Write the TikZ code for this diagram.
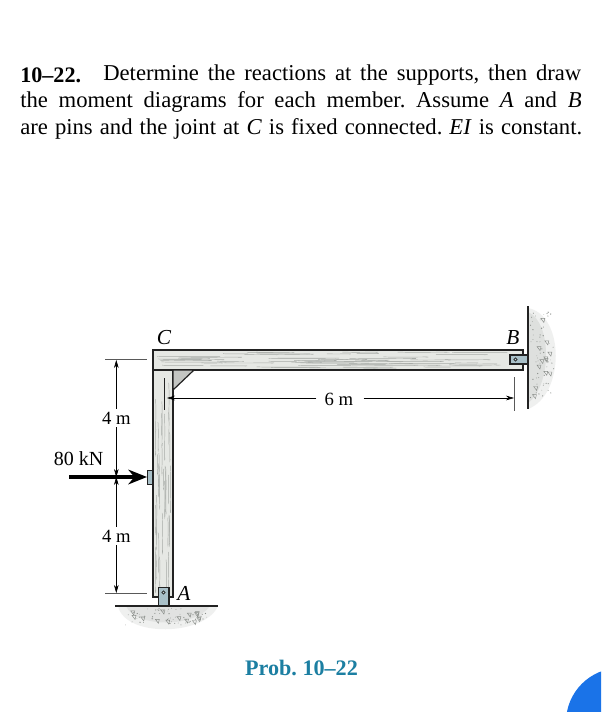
\documentclass[tikz,border=0pt]{standalone}
\usepackage{fontspec}
\setmainfont{Liberation Serif}
\usetikzlibrary{arrows.meta}
\definecolor{wood}{HTML}{E6E8E4}
\definecolor{grain}{HTML}{A8ACA8}
\definecolor{steel}{HTML}{A9C0C8}
\definecolor{edge}{HTML}{222222}
\definecolor{probblue}{HTML}{1C7FA2}
\definecolor{badge}{HTML}{1A73E8}
\definecolor{concrete}{HTML}{D4D6D4}
\definecolor{stone}{HTML}{8A8E8A}
\tikzset{
  body/.style={font=\fontsize{17}{20}\selectfont,inner sep=0pt,anchor=west},
  dimtext/.style={font=\fontsize{14}{16}\selectfont,inner sep=0pt},
  letter/.style={font=\fontsize{16}{18}\selectfont\itshape,inner sep=0pt},
  member/.style={fill=wood,draw=edge,line width=1pt},
  plate/.style={fill=steel,draw=edge,line width=0.8pt},
  dimline/.style={draw=black,line width=0.4pt},
  dimarrow/.style={dimline,-{Stealth[length=6pt,width=3.5pt]}},
  extline/.style={draw=black!65,line width=0.45pt},
  grainline/.style={draw=grain,line width=0.35pt},
}
\begin{document}
\frenchspacing
\begin{tikzpicture}[x=0.75pt,y=-0.75pt]
\useasboundingbox (0,0) rectangle (601,712);
\clip (0,0) rectangle (601,712);
\fill[white] (0,0) rectangle (601,712);
\pgfmathsetseed{1022}
% badge
\fill[badge] (620,722) circle (54);
% problem text
\node[body,font=\fontsize{16.6}{20}\selectfont] (l1) at (20,75) {\textbf{10–22.}};
\node[body] (l1b) at (103,75) {\hbox to 358.5pt{Determine the reactions at the supports, then draw}};
\node[body] (l2) at (20,102) {\hbox to 421pt{the moment diagrams for each member. Assume \textit{A} and \textit{B}}};
\node[body] (l3) at (20,129) {\hbox to 421.5pt{are pins and the joint at \textit{C} is fixed connected. \textit{EI} is constant.}};
% ground and wall stipple
\fill[concrete,opacity=.35] (118,606) .. controls (125,638) and (205,636) .. (218,606) -- cycle;
\fill[concrete,opacity=.5] (126,606) .. controls (135,628) and (195,628) .. (210,606) -- cycle;
\fill[concrete,opacity=.35] (528,308) .. controls (565,315) and (565,395) .. (528,409) -- cycle;
\fill[concrete,opacity=.6] (528,312) .. controls (552,322) and (552,385) .. (528,403) -- cycle;
\foreach \i in {1,...,60}{
  \pgfmathsetmacro\px{125+rnd*85}
  \pgfmathsetmacro\py{608+rnd*17}
  \fill[stone] (\px,\py) circle (0.3+rnd*0.4);
}
\foreach \i in {1,...,14}{
  \pgfmathsetmacro\px{128+rnd*78}
  \pgfmathsetmacro\py{609+rnd*12}
  \draw[stone,line width=.35pt] (\px,\py) -- ++(4,0) -- ++(-1,4) -- cycle;
}
\foreach \i in {1,...,55}{
  \pgfmathsetmacro\px{530+rnd*24}
  \pgfmathsetmacro\py{312+rnd*90}
  \fill[stone] (\px,\py) circle (0.3+rnd*0.4);
}
\foreach \i in {1,...,12}{
  \pgfmathsetmacro\px{531+rnd*18}
  \pgfmathsetmacro\py{316+rnd*80}
  \draw[stone,line width=.35pt] (\px,\py) -- ++(4,0) -- ++(-1,4) -- cycle;
}
% column
\path[member] (153,370) rectangle (173,597);
\foreach \i in {1,...,34}{
  \pgfmathsetmacro\gx{155+rnd*16}
  \pgfmathsetmacro\gy{372+rnd*190}
  \pgfmathsetmacro\gl{15+rnd*30}
  \draw[grainline] (\gx,\gy) .. controls +(1,\gl/3) and +(-1,\gl/3) .. +(0.5,\gl);
}
\draw[edge,line width=.7pt] (164,378) -- (164,410);
% beam
\path[member] (153,350) -- (523,350) -- (523,355) -- (510,355) -- (510,364) -- (523,364) -- (523,370) -- (153,370) -- cycle;
\foreach \i in {1,...,60}{
  \pgfmathsetmacro\gx{156+rnd*300}
  \pgfmathsetmacro\gy{352+rnd*16}
  \pgfmathsetmacro\gl{20+rnd*45}
  \draw[grainline] (\gx,\gy) .. controls +(\gl/3,.6) and +(\gl/3,-.6) .. +(\gl,.3);
}
\draw[edge,line width=1.3pt] (153,370) -- (523,370);
% gusset
\path[fill=wood!85!black,draw=edge,line width=.9pt] (173,370) -- (194,370) -- (173,390) -- cycle;
% supports
\path[plate] (510,355) rectangle (528,364);
\draw[edge,line width=.5pt,fill=steel!60] (515.5,359.5) circle (1.7);
\draw[edge,line width=.8pt] (153,597) -- (158,597) (169,597) -- (173,597);
\path[plate] (158.5,587.5) rectangle (169,606);
\draw[edge,line width=.5pt,fill=steel!60] (163.5,592.5) circle (1.7);
\path[fill=steel,draw=edge,line width=.5pt] (147.5,470) rectangle (152,484);
% ground and wall
\draw[edge,line width=.9pt] (115,606) -- (218,606);
\draw[edge,line width=.9pt] (528,306) -- (528,409);
% named dimension points
\coordinate (top) at (116.3,360);
\coordinate (mid) at (116.3,477);
\coordinate (bot) at (116.3,593);
\coordinate (left6) at (167,398);
\coordinate (right6) at (514,398);
\node[dimtext] (m1) at (116.3,418) {4 m};
\node[dimtext] (m2) at (116.3,536) {4 m};
\node[dimtext] (m3) at (339,399) {6 m};
\node[font=\fontsize{15}{16}\selectfont,inner sep=0pt] (kn) at (78.5,459) {80 kN};
% dimension lines
\draw[extline] (105,359.5) -- (147,359.5);
\draw[extline] (105,593) -- (147,593);
\draw[extline] (514,377) -- (514,411);
\draw[dimarrow] (m1.north) ++(0,-3) -- (top);
\draw[dimarrow] (m1.south) ++(0,3) -- (mid);
\draw[dimarrow] (m2.north) ++(0,-3) -- (mid);
\draw[dimarrow] (m2.south) ++(0,3) -- (bot);
\draw[dimarrow] (m3.west) ++(-8,-1) -- (left6);
\draw[dimarrow] (m3.east) ++(10,-1) -- (right6);
% force
\coordinate (ftail) at (69,477);
\coordinate (fhead) at (147,477);
\draw[line width=2.4pt,-{Stealth[length=14pt,width=11pt]}] (ftail) -- (fhead);
% letters
\node[letter] (C) at (164,338) {C};
\node[letter] (B) at (513,338) {B};
\node[letter] (A) at (184,593) {A};
\node[font=\fontsize{16.6}{18}\selectfont\bfseries,text=probblue,inner sep=0pt] (prob) at (301.5,668) {Prob. 10–22};
\end{tikzpicture}
\end{document}
